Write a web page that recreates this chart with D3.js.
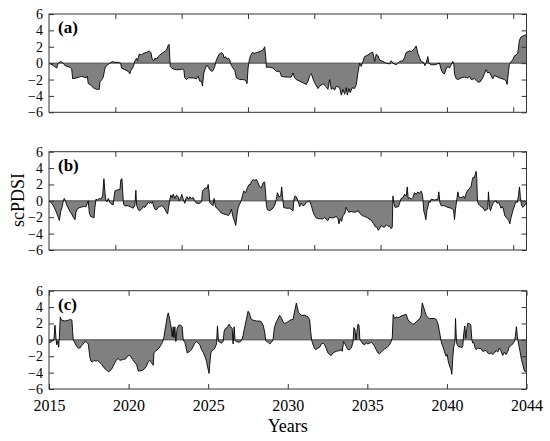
<!DOCTYPE html>
<html>
<head>
<meta charset="utf-8">
<script src="https://cdn.jsdelivr.net/npm/d3@7"></script>
<style>
  body { margin: 0; background: #fff; }
  svg text { font-family: "Liberation Serif", "Times New Roman", serif !important; fill: #000; }
</style>
</head>
<body>
<svg id="chart" width="550" height="441"></svg>
<script>
// [month since Jan 2015, scPDSI]
const panelA = [[0,0],[3.3,-0.3],[5.8,-0.6],[7,0],[8.8,0.2],[10.8,0],[12,-0.3],[15.8,-0.5],[17.1,-0.7],[17.8,-1.9],[20.8,-1.8],[24.6,-1.6],[27.9,-1.8],[28.9,-1.6],[29.6,-2.5],[30.9,-2.6],[33.4,-3.0],[35.9,-3.2],[37.9,-3.2],[38.4,-2.3],[39.9,-2.0],[40.9,-1.7],[42.2,-0.6],[43.4,-0.3],[45.9,0],[47.9,0.2],[49.7,0.1],[52.2,0.1],[54,0],[54.7,-0.6],[57.2,-0.8],[59.7,-1.0],[61,-1.3],[61.7,-0.9],[63,-0.6],[64,-0.2],[64.8,0.3],[66,0.6],[66.8,0.3],[68,1.1],[69.8,1.0],[71,1.2],[73.5,1.3],[75.6,1.5],[76.8,1.3],[77.8,0.5],[79.1,0.3],[79.8,0.6],[81.1,0.5],[82.3,0.8],[83.6,1.0],[86.1,1.3],[88.6,1.6],[89.9,2.2],[90.6,2.3],[91.4,-0.4],[91.9,-0.5],[93.6,-0.7],[96.1,-0.8],[98.6,-0.8],[100.7,-0.7],[101.7,-0.9],[102.4,-1.8],[103.7,-2.0],[104.9,-1.8],[108.7,-1.8],[111.2,-1.9],[112.4,-1.6],[113.7,-2.2],[115,-2.2],[115.7,-2.8],[116.7,-1.2],[117.5,-0.8],[118.7,-0.3],[120,-0.4],[121.2,-0.8],[122.7,-1.0],[123.7,-0.9],[125,-0.4],[125.8,0.2],[126.8,0.6],[128.3,1.1],[130,1.3],[131.3,1.1],[132,0.6],[133,0.8],[134.3,0.5],[135.3,0.6],[136.3,0.4],[136.8,0],[137.5,-0.3],[138.8,-0.6],[140.1,-0.9],[141.3,-1.8],[143.8,-2.0],[146.3,-2.0],[148.3,-2.1],[149.3,-2.5],[150.1,-0.6],[150.9,0.3],[151.9,0.9],[153.4,1.3],[155.1,1.2],[156.4,1.3],[158.9,1.4],[161.4,1.6],[162.6,2.0],[163.4,0.8],[163.9,-0.5],[166.4,-0.5],[168.9,-0.6],[171.4,-1.0],[173.9,-1.0],[175.2,-1.6],[177.7,-1.7],[182.7,-1.7],[184,-1.2],[185.2,-1.8],[186.5,-2.0],[189,-2.2],[191.5,-2.4],[194,-2.6],[195.3,-2.2],[196.5,-1.5],[197.8,-1.3],[199,-1.9],[200.3,-2.4],[202.8,-3.1],[204.1,-2.8],[206.6,-2.5],[209.1,-2.9],[210.3,-3.2],[211.6,-2.0],[212.8,-3.2],[214.1,-3.0],[215.3,-3.3],[216.6,-2.8],[219.1,-3.0],[220.4,-3.9],[221.6,-3.2],[222.9,-3.8],[224.1,-3.0],[224.9,-3.9],[226.1,-3.1],[227.1,-3.6],[228.6,-3.0],[230.4,-3.1],[231.7,-2.6],[232.9,-1.2],[234.2,0],[235.4,-0.4],[236.7,0.2],[237.9,0.8],[240.4,1.0],[243,1.3],[244.2,1.3],[245.5,0.2],[246.7,1.1],[248,0.9],[249.2,0.4],[251.7,0.2],[254.2,0],[256.8,-0.1],[258,0.3],[259.3,0],[261.8,-0.2],[263,0],[264.3,0.2],[266.8,0.3],[268.1,0.7],[269.3,1.3],[271.8,1.5],[273.1,1.4],[275.6,1.8],[276.8,2.1],[278.1,1.2],[279.3,0.7],[280.6,0.2],[282.4,0.1],[283.4,-0.3],[284.4,0],[285.6,0.8],[286.4,0],[288.1,-0.2],[291,-0.2],[294.4,0],[295.7,-0.8],[296.9,-1.2],[298.2,-1.3],[299.4,-0.7],[300.7,-0.4],[301.9,-0.6],[303.2,-0.2],[304.5,0.2],[305.2,-0.1],[305.7,-1.3],[307,-1.9],[308.2,-2.0],[310.7,-1.8],[313.2,-1.7],[315.7,-1.8],[317,-1.6],[318.3,-2.0],[320.8,-1.9],[323.3,-2.3],[325,-2.3],[327,-1.8],[328.3,-1.3],[329.6,-0.8],[330.8,-1.2],[332.1,-1.1],[333.3,-1.5],[334.6,-1.9],[335.8,-1.5],[339.6,-1.8],[343.4,-2.0],[344.6,-2.2],[345.4,-2.6],[346.4,-1.0],[347.1,-0.2],[348.4,0.2],[349.6,0.4],[350.9,0.9],[352.1,1.0],[353.4,1.2],[354.7,2.8],[355.9,3.2],[357.2,3.3],[360,3.5]];

const panelB = [[0,0],[2,-0.3],[3.3,-0.6],[4.5,-1.0],[5.8,-1.5],[7,-2.0],[7.8,-2.4],[8.8,-1.3],[9.8,-0.8],[10.8,0],[11.5,0.3],[12.6,-0.1],[13.3,-0.5],[14.6,-0.9],[15.8,-1.3],[17.1,-1.6],[18.3,-2.0],[19.6,-2.3],[20.3,-1.4],[21.3,-1.0],[23.3,-0.8],[25.9,-0.7],[27.9,-0.7],[28.9,-0.3],[29.6,0],[30.4,-1.5],[31.4,-1.9],[32.9,-2.0],[33.9,-2.1],[34.6,-0.8],[35.4,0.2],[36.4,0.1],[37.9,0.3],[39.2,0.2],[40.4,0.6],[41.4,2.7],[42.2,1.0],[42.9,0],[43.9,-0.1],[44.7,0.3],[45.9,-0.2],[47.2,-0.4],[48.4,-0.5],[48.9,0.3],[49.7,1.2],[51,1.3],[53.5,1.4],[54.2,2.6],[55,2.7],[55.5,1.2],[56.2,-0.4],[57.2,-0.6],[59.7,-0.6],[62.2,-0.8],[63.5,-0.9],[64.8,-0.5],[65.5,1.3],[66,-0.5],[67.3,-1.1],[68.5,-1.2],[69.8,-1.0],[71,-0.7],[72.3,-0.8],[73.5,-0.5],[74.8,-0.2],[75.6,-0.3],[76.6,-0.2],[77.3,-0.3],[78.1,-0.1],[78.6,-0.5],[79.8,-1.0],[81.1,-1.1],[82.3,-0.8],[83.6,-0.7],[84.8,-0.6],[86.1,-0.7],[87.3,-1.0],[88.6,-1.4],[89.4,-1.6],[90.1,-0.9],[91.1,0.2],[91.9,0.7],[92.9,0.4],[93.6,0.8],[94.9,0.3],[96.1,0.7],[97.4,0.5],[98.1,0],[99.1,0.3],[100.1,0.8],[101.2,0.2],[102.4,-0.3],[103.2,0.3],[104.2,0.5],[105.2,0.2],[106.2,0.5],[107.4,0.3],[108.7,0.4],[109.9,0],[111.2,-0.3],[113.7,-0.3],[115,-0.1],[115.7,1.2],[116.7,1.4],[118.2,1.6],[119.2,1.5],[120,2.0],[120.7,1.1],[121.2,-0.2],[122.5,-0.4],[123.7,-0.6],[124.5,0.3],[125,-0.3],[125.8,-0.8],[126.8,-0.9],[128.3,-1.2],[130,-1.5],[131.8,-1.6],[133.8,-1.7],[135,-1.8],[136.3,-1.6],[137.5,-1.0],[138.8,-2.0],[140.1,-2.6],[140.8,-3.0],[141.8,-1.6],[142.6,-0.8],[143.8,-0.4],[145.1,0.1],[145.8,0.6],[146.8,1.2],[148.3,1.0],[149.3,1.5],[150.9,2.0],[151.9,2.0],[152.6,2.4],[153.9,2.6],[155.1,2.5],[156.4,2.6],[157.6,2.2],[158.9,1.7],[160.1,1.6],[161.4,2.2],[162.6,2.3],[163.4,0.8],[163.9,-0.6],[164.7,-1.1],[166.4,-1.2],[168.9,-0.9],[170.2,-0.5],[171.4,0.2],[172.2,1.0],[173.4,0.5],[174.7,0.6],[175.4,1.7],[176.2,0.4],[176.9,-0.8],[178.9,-0.9],[181.5,-0.9],[184,-1.2],[184.7,0.2],[185.5,0.6],[186.5,0.5],[187.7,0],[189,-0.7],[190.2,-0.3],[191.5,-0.6],[192.8,-0.5],[194,-0.2],[196.5,0],[197.8,-0.6],[199,-1.3],[200.3,-1.8],[201.5,-2.1],[204.1,-2.2],[206.6,-2.2],[207.8,-2.0],[209.1,-2.3],[210.3,-2.4],[211.6,-2.0],[214.1,-2.1],[216.6,-1.9],[217.9,-2.2],[218.6,-2.8],[219.6,-2.2],[220.6,-2.5],[221.6,-1.8],[222.9,-1.6],[224.1,-0.8],[224.9,-1.1],[226.1,-1.4],[227.9,-1.3],[230.4,-1.4],[232.2,-1.3],[233.2,-1.2],[234.2,-1.5],[236.2,-1.8],[237.9,-1.9],[240.4,-2.1],[243,-2.4],[244.7,-2.8],[246.2,-3.2],[247.2,-3.2],[248.2,-3.6],[249.2,-3.4],[250.5,-3.0],[251.7,-3.2],[253,-3.2],[254.3,-2.9],[255.5,-3.1],[256.8,-3.1],[258,-3.4],[258.8,-3.2],[259.3,0.6],[260,-0.3],[261,-0.8],[263.5,-0.7],[264.3,-0.3],[265.5,0.3],[266.8,0.4],[268.1,0.8],[269.3,0.6],[270.1,1.7],[270.8,0.3],[271.8,0.4],[273.1,0.2],[274.3,0.4],[275.6,1.0],[276.8,0.8],[278.1,1.1],[279.3,0.9],[280.6,1.2],[281.4,0.8],[281.9,0.2],[282.6,-1.3],[283.4,-1.7],[284.1,-2.3],[284.9,-1.2],[285.9,-0.6],[286.4,-0.1],[287.4,-0.2],[288.1,0.2],[290.6,0.1],[293.2,0.2],[293.9,1.1],[294.7,-0.2],[295.7,-0.6],[298.2,-0.6],[300.7,-0.8],[303.2,-0.9],[305,-1.1],[305.7,-2.3],[306.5,-1.0],[307.5,0.2],[308.2,1.1],[309,0.5],[310,0.4],[311.5,0.4],[312.5,0.6],[313.5,0.3],[314.5,0.9],[315.7,1.3],[317,1.5],[318.3,1.8],[319,2.5],[319.8,2.9],[320.5,2.8],[321.3,3.2],[322,3.6],[322.5,2.8],[323,0],[323.8,-0.4],[325,-0.6],[326.5,-0.8],[327.5,-0.9],[328.5,-1.2],[329.6,-1.1],[330.8,-1.0],[331.3,1.1],[332.1,-0.8],[332.8,-1.2],[333.8,-0.7],[334.8,-0.3],[335.8,-0.1],[337.1,0],[337.8,-0.3],[339.1,-0.2],[340.1,-0.6],[340.8,-0.9],[341.6,-0.7],[342.6,-1.0],[343.6,-1.8],[345.1,-2.1],[346.6,-2.4],[347.4,-2.8],[348.4,-2.0],[349.6,-1.3],[350.9,-0.6],[352.1,-0.1],[353.1,-0.2],[353.9,0.6],[354.7,1.7],[355.4,0.4],[356.2,-0.5],[357.2,-0.8],[358.4,-0.6],[360,-0.2]];

const panelC = [[0,-0.3],[1.3,-0.3],[2.8,-0.1],[3.8,0.2],[4.5,1.8],[5.3,0.2],[5.8,-0.6],[6.5,-0.2],[7.3,-0.9],[7.8,0.3],[8.5,2.8],[9.5,2.4],[12,2.3],[14.6,2.4],[16.3,2.5],[17.3,2.4],[17.8,1.0],[18.3,0],[19.6,-0.4],[20.8,-0.8],[22.1,-1.0],[23.3,-1.0],[24.6,-0.7],[25.9,-0.5],[27.1,-0.2],[28.4,-0.3],[29.6,-0.5],[30.9,-2.2],[31.6,-2.6],[32.9,-2.7],[34.1,-2.5],[35.4,-2.6],[36.6,-2.5],[37.9,-2.7],[39.7,-3.0],[41.4,-3.4],[42.9,-3.6],[44.7,-3.9],[45.9,-3.8],[47.2,-3.6],[48.4,-3.2],[49.7,-2.8],[51,-2.4],[52.2,-2.3],[53.5,-2.5],[56,-2.4],[58,-2.3],[59.2,-2.0],[60.5,-1.9],[61.5,-2.0],[63,-2.4],[64.3,-2.7],[66,-3.0],[67.3,-3.8],[68.5,-3.8],[70.5,-3.7],[72.3,-3.5],[73.5,-3.2],[74.8,-2.7],[76.1,-2.5],[77.3,-2.8],[78.6,-3.1],[79.1,-1.6],[80.1,-1.4],[81.6,-1.2],[83.1,-1.0],[84.1,-0.7],[85.6,-0.3],[86.6,0.3],[87.9,1.6],[89.1,2.8],[89.9,3.3],[90.6,2.8],[91.6,2.0],[92.4,1.2],[92.9,0.4],[93.6,1.6],[94.1,0.3],[94.9,1.6],[95.6,-0.2],[96.6,1.4],[97.9,1.8],[99.1,1.8],[100.4,1.6],[101.2,0],[102.4,-0.3],[103.2,-0.8],[104.2,-1.6],[105.2,-1.5],[106.2,-1.4],[107.4,-1.2],[108.7,-0.8],[109.9,-0.4],[111.2,-0.2],[112.4,-0.4],[113.7,-0.6],[115,-1.2],[116.2,-1.5],[117.5,-2.0],[118.7,-2.6],[119.7,-3.4],[120.7,-4.1],[121.2,-3.0],[122,-1.6],[123,-1.3],[124.2,-1.2],[125,-1.0],[126.3,-0.5],[127,1.7],[127.8,-0.2],[130,-0.4],[131.3,-0.2],[132,1.0],[133,1.4],[134.3,1.5],[135.8,1.9],[137,1.6],[138.1,1.4],[138.8,-0.5],[139.6,1.6],[140.3,-0.1],[141.3,-0.2],[143.3,-0.3],[145.1,-0.1],[146.3,0.5],[147.6,1.6],[148.8,2.5],[150.1,3.5],[150.9,3.3],[151.9,2.8],[152.6,2.5],[153.9,2.4],[156.4,2.3],[158.9,2.3],[160.1,2.2],[161.4,1.8],[162.6,1.0],[163.4,-0.1],[165.2,-0.3],[166.4,-0.5],[167.7,-0.3],[168.9,0],[169.9,1.5],[171.4,2.2],[172.7,2.6],[173.9,3.0],[175.2,2.7],[176.4,2.2],[177.7,2.0],[179,2.1],[180.2,2.2],[181.5,2.4],[184,2.5],[185.2,3.5],[186.5,4.5],[187.2,4.0],[188,3.4],[189,3.2],[190.2,3.0],[192.8,3.0],[194,2.9],[195.3,2.8],[196.5,2.5],[197.3,1.0],[198,0],[198.5,-0.3],[199.5,-0.8],[201,-1.2],[202.8,-1.0],[204.1,-0.9],[205.3,-0.5],[206.6,-0.4],[207.8,-0.6],[209.1,-1.1],[210.3,-1.6],[211.6,-1.8],[212.8,-1.9],[214.1,-1.6],[215.3,-1.5],[216.6,-1.4],[219.1,-1.3],[220.4,-1.2],[221.1,-1.4],[222.1,-0.2],[222.9,-0.4],[224.1,-0.8],[225.4,-1.2],[226.6,-1.2],[227.9,-1.0],[229.2,-0.3],[229.9,1.5],[230.7,1.3],[231.4,0],[232.2,1.0],[232.9,1.9],[233.7,1.8],[234.4,0],[235.4,-0.2],[236.7,-0.5],[237.9,-0.6],[239.2,-0.4],[240.4,-0.5],[243,-0.3],[244.2,-0.5],[245.5,-0.8],[246.7,-1.2],[248,-1.6],[249.2,-1.7],[250.5,-1.5],[251.7,-1.3],[253,-1.1],[254.3,-1.0],[255.5,-0.8],[256.8,-0.6],[258,-0.2],[258.8,0.3],[259.5,3.1],[260.5,2.6],[261.8,2.8],[263,2.7],[264.3,2.8],[265.5,2.9],[266.8,3.0],[269.3,3.1],[270.6,2.5],[271.8,2.2],[273.1,2.1],[274.3,1.9],[275.6,2.0],[276.8,2.2],[278.1,2.4],[279.3,2.5],[280.6,3.0],[281.4,4.5],[282.4,4.0],[283.4,3.5],[284.4,3.0],[285.6,2.7],[286.9,2.6],[290.6,2.6],[291.9,2.5],[293.2,2.0],[294.4,1.0],[295.4,0],[296.4,-0.6],[297.4,-1.0],[298.4,-1.6],[299.4,-2.0],[300.2,-1.8],[301,-2.6],[302,-3.2],[303,-3.6],[303.7,-4.2],[304.5,-2.0],[305.2,-0.8],[306,-0.3],[306.5,2.6],[307.2,-0.3],[308,-0.7],[309,-0.9],[310,-0.8],[311,-1.0],[312,-0.7],[312.7,0.8],[313.5,1.7],[314.2,0.2],[315,1.4],[315.7,2.0],[317,2.0],[318,1.8],[318.8,0],[319.5,-0.4],[320.3,-0.3],[321.3,-1.0],[322,-1.2],[323.3,-1.0],[325.8,-1.1],[327,-1.4],[329.6,-1.3],[330.8,-1.6],[332.1,-1.7],[333.3,-1.6],[334.6,-1.8],[335.8,-1.6],[337.1,-1.3],[338.3,-1.5],[339.6,-1.0],[340.8,-1.4],[342.1,-1.9],[343.4,-1.5],[344.6,-1.8],[345.9,-1.4],[347.1,-0.8],[348.4,-0.7],[349.6,-0.5],[350.9,-0.2],[351.6,0.4],[352.4,1.6],[353.1,0.4],[354.1,-0.6],[355.1,-1.4],[356.2,-2.4],[357.2,-3.0],[358.4,-3.8],[360,-3.9]];

const panelNames = ["(a)", "(b)", "(c)"];
const yTicks = [-6, -4, -2, 0, 2, 4, 6];
const monthTicks = [50, 100, 150, 200, 250, 300, 350];     // panels a, b
const yearTicks = [0, 60, 120, 180, 240, 300, 360];        // panel c
const yearLabels = ["2015", "2020", "2025", "2030", "2035", "2040", "2044"];

const serif = "Liberation Serif";
const svg = d3.select("#chart");
const left = 49, right = 526.5, plotH = 98.3;
const tops = [14, 151.7, 290.7];

const x = d3.scaleLinear().domain([0, 360]).range([left, right]);

function drawPanel(data, top, name, last) {
    const y = d3.scaleLinear().domain([-6, 6]).range([top + plotH, top]);
    const g = svg.append("g");

    const area = d3.area()
        .x(d => x(d[0]))
        .y0(y(0))
        .y1(d => y(d[1]));
    const line = d3.line()
        .x(d => x(d[0]))
        .y(d => y(d[1]));

    g.append("path").datum(data)
        .attr("d", area)
        .attr("fill", "#808080");

    // baseline at 0
    g.append("line")
        .attr("x1", left).attr("x2", right)
        .attr("y1", y(0)).attr("y2", y(0))
        .attr("stroke", "#4a4a4a").attr("stroke-width", 1);

    g.append("path").datum(data)
        .attr("d", line)
        .attr("fill", "none")
        .attr("stroke", "#000")
        .attr("stroke-width", 0.9)
        .attr("stroke-linejoin", "round");

    // ticks on all four sides, pointing inwards
    const xTicks = last ? yearTicks : monthTicks;
    g.append("g").attr("class", "yl").attr("transform", `translate(${left},0)`)
        .call(d3.axisLeft(y).tickValues(yTicks).tickSize(-5).tickPadding(6));
    g.append("g").attr("transform", `translate(${right},0)`)
        .call(d3.axisRight(y).tickValues(yTicks).tickSize(-5).tickFormat(""));
    g.append("g").attr("transform", `translate(0,${top})`)
        .call(d3.axisTop(x).tickValues(xTicks).tickSize(-5).tickFormat(""));
    g.append("g").attr("class", "xb").attr("transform", `translate(0,${top + plotH})`)
        .call(d3.axisBottom(x).tickValues(xTicks).tickSize(-5).tickPadding(10.5)
            .tickFormat((d, i) => last ? yearLabels[i] : ""));

    g.selectAll(".domain").remove();
    g.selectAll(".tick line").attr("stroke", "#333");
    g.selectAll("g").attr("font-family", serif);
    g.selectAll(".yl text").attr("font-size", 14);
    g.selectAll(".xb text").attr("font-size", 16);

    g.append("rect")
        .attr("x", left).attr("y", top)
        .attr("width", right - left).attr("height", plotH)
        .attr("fill", "none")
        .attr("stroke", "#333").attr("stroke-width", 1);

    g.append("text")
        .attr("x", 58).attr("y", top + 19)
        .attr("font-family", serif)
        .attr("font-size", 17).attr("font-weight", "bold")
        .text(name);
}

[panelA, panelB, panelC].forEach((d, i) => drawPanel(d, tops[i], panelNames[i], i === 2));

svg.append("text")
    .attr("transform", "translate(24,200) rotate(-90)")
    .attr("text-anchor", "middle")
    .attr("font-family", serif)
    .attr("font-size", 18)
    .text("scPDSI");

svg.append("text")
    .attr("x", (left + right) / 2).attr("y", 432)
    .attr("text-anchor", "middle")
    .attr("font-family", serif)
    .attr("font-size", 18)
    .text("Years");
</script>
</body>
</html>
